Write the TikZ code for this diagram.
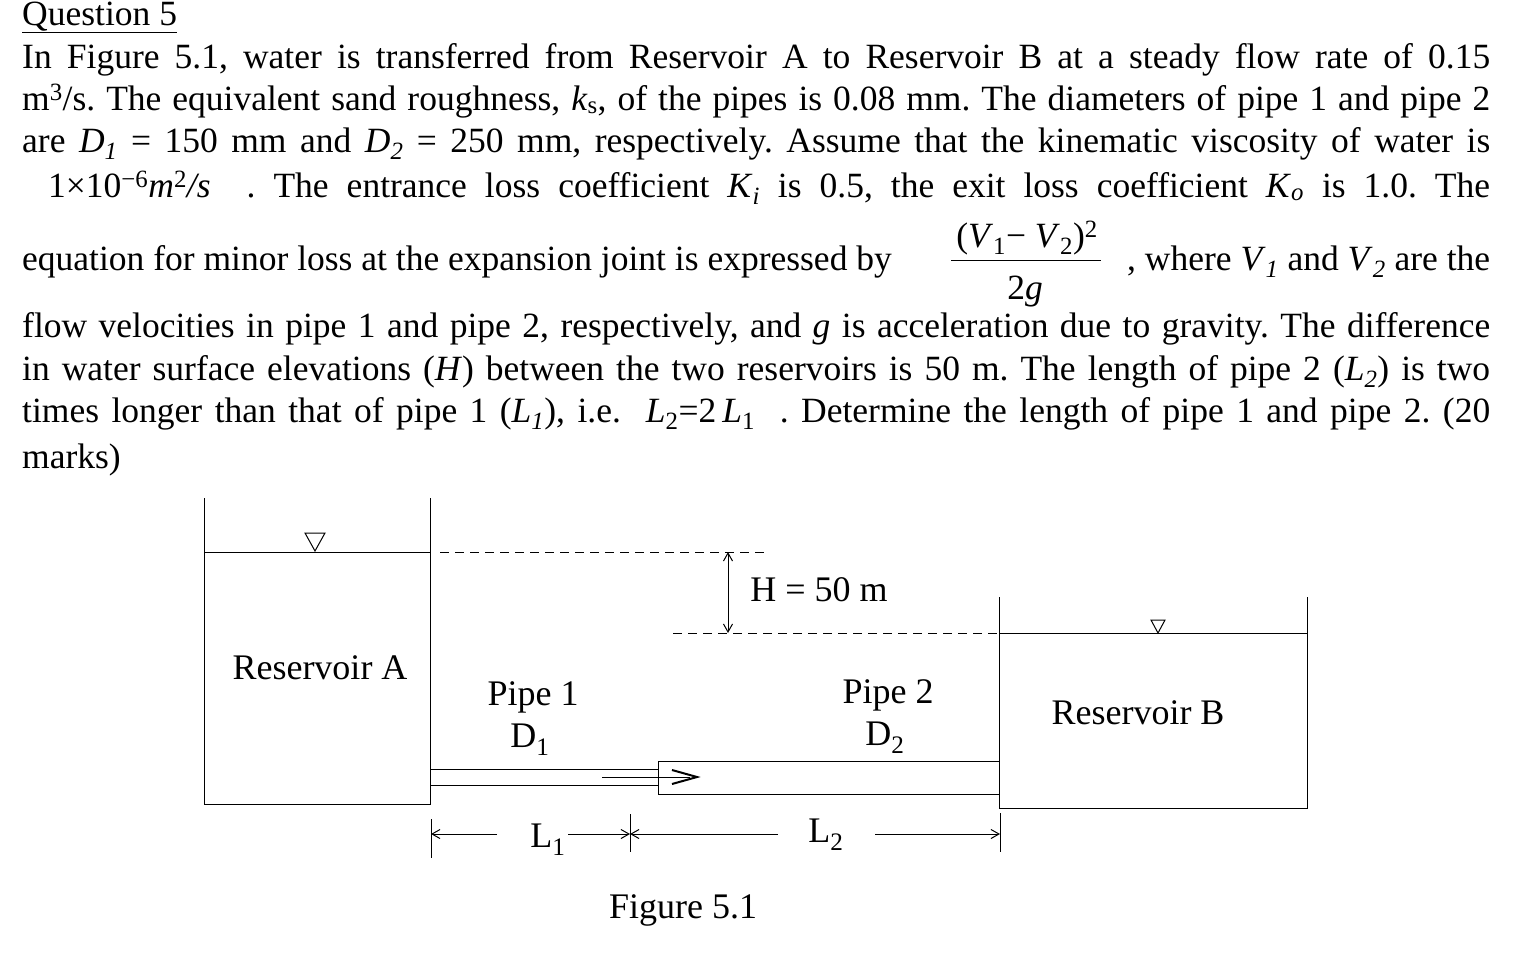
\documentclass[tikz,border=0pt]{standalone}
\usepackage{fontspec}
\setmainfont{Liberation Serif}
\usetikzlibrary{arrows.meta}
\frenchspacing
\newcommand{\jl}[2]{\makebox[#1pt][s]{#2}}
\newcommand{\iv}[2]{\textit{#1}\textsubscript{#2}}
\begin{document}
\begin{tikzpicture}[x=1pt,y=-1pt,
  txt/.style={anchor=base west,inner sep=0,font=\fontsize{35.5}{40}\selectfont},
  lab/.style={inner sep=0,font=\fontsize{36}{40}\selectfont},
  ln/.style={line width=1pt},
  dsh/.style={line width=1pt,dash pattern=on 9pt off 6pt},
  arr/.style={line width=1pt,-{Straight Barb[length=8pt,width=9pt]}}]
\useasboundingbox (0,0) rectangle (1518,967);
% text
\node[txt] (t0) at (22,25) {\underline{Question 5}};
\node[txt] (t1) at (22,68) {\jl{1468}{In Figure 5.1, water is transferred from Reservoir A to Reservoir B at a steady flow rate of 0.15}};
\node[txt] (t2) at (22,110) {\jl{1468}{m\textsuperscript{3}/s. The equivalent sand roughness, \iv{k}{s}, of the pipes is 0.08 mm. The diameters of pipe 1 and pipe 2}};
\node[txt] (t3) at (22,152) {\jl{1468}{are \iv{D}{\textit{1}} = 150 mm and \iv{D}{\textit{2}} = 250 mm, respectively. Assume that the kinematic viscosity of water is}};
\node[txt] (t4) at (48,197) {\jl{1442}{1×10\textsuperscript{−6}\textit{m}\textsuperscript{2}\textit{/s} \ . The entrance loss coefficient \iv{K}{\textit{i}} is 0.5, the exit loss coefficient \iv{K}{\textit{o}} is 1.0. The}};
\node[txt] (t5) at (22,270) {equation for minor loss at the expansion joint is expressed by};
\node[txt] (t5b) at (1127,270) {\jl{363}{, where \iv{V}{\textit{1}} and \iv{V}{\textit{2}} are the}};
\node[txt,anchor=base] (fn) at (1027,247) {(\iv{V}{1}− \iv{V}{2})\textsuperscript{2}};
\node[txt,anchor=base] (fd) at (1025,299) {2\textit{g}};
\draw[ln] (951,260) -- (1101,260);
\node[txt] (t6) at (22,337) {\jl{1468}{flow velocities in pipe 1 and pipe 2, respectively, and \textit{g} is acceleration due to gravity. The difference}};
\node[txt] (t7) at (22,380) {\jl{1468}{in water surface elevations (\textit{H}) between the two reservoirs is 50 m. The length of pipe 2 (\iv{L}{\textit{2}}) is two}};
\node[txt] (t8) at (22,422) {\jl{1468}{times longer than that of pipe 1 (\iv{L}{\textit{1}}), i.e. \ \iv{L}{2}=2\,\iv{L}{1} \ . Determine the length of pipe 1 and pipe 2. (20}};
\node[txt] (t9) at (22,468) {marks)};
% reservoir A
\coordinate (a1) at (204,498); \coordinate (a2) at (204,804);
\coordinate (a3) at (430,804); \coordinate (a4) at (430,498);
\draw[ln] (a1) -- (a2) -- (a3) -- (a4);
\draw[ln] (204,552) -- (430,552);
\draw[ln] (305,533) -- (325,533) -- (315,551) -- cycle;
% reservoir B
\draw[ln] (999,597) -- (999,808) -- (1307,808) -- (1307,597);
\draw[ln] (999,633) -- (1307,633);
\draw[ln] (1151,620) -- (1165,620) -- (1158,633) -- cycle;
% dashed levels and H
\draw[dsh] (440,552) -- (768,552);
\draw[dsh] (673,633) -- (998,633);
\coordinate (h1) at (728,552); \coordinate (h2) at (728,633);
\draw[line width=1pt,{Straight Barb[length=8pt,width=9pt]}-{Straight Barb[length=8pt,width=9pt]}] (h1) -- (h2);
% pipes
\draw[ln] (430,769) -- (658,769); \draw[ln] (430,785) -- (658,785);
\draw[ln] (658,761) rectangle (999,794);
\draw[ln] (602,777) -- (690,777);
\draw[line width=2pt] (672,770) -- (697,777) -- (672,784);
% dimensions
\draw[ln] (431,819) -- (431,858);
\draw[ln] (630,814) -- (630,852);
\draw[ln] (1000,813) -- (1000,852);
\coordinate (d1) at (431,834); \coordinate (d2) at (630,834); \coordinate (d3) at (1000,834);
\draw[arr] (497,834) -- (d1);
\draw[arr] (568,834) -- (d2);
\draw[arr] (778,834) -- (d2);
\draw[arr] (875,834) -- (d3);
% labels
\node[lab] (rA) at (320,668) {Reservoir A};
\node[lab] (p1) at (533,697) {Pipe 1};
\node[lab] (dd1) at (530,740) {D\textsubscript{1}};
\node[lab] (p2) at (888,695) {Pipe 2};
\node[lab] (dd2) at (885,738) {D\textsubscript{2}};
\node[lab] (rB) at (1138,713) {Reservoir B};
\node[lab] (H) at (819,590) {H = 50 m};
\node[lab] (L1) at (548,840) {L\textsubscript{1}};
\node[lab] (L2) at (826,835) {L\textsubscript{2}};
\node[lab] (fig) at (683,910) {Figure 5.1};
\end{tikzpicture}
\end{document}
